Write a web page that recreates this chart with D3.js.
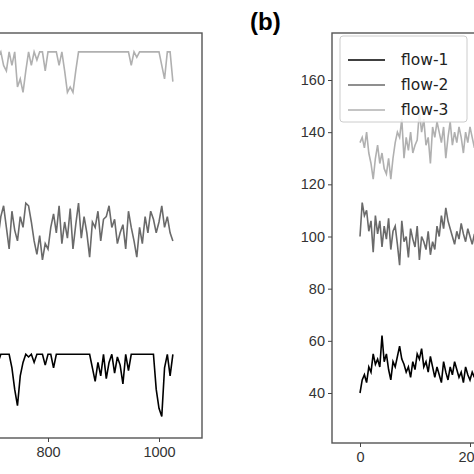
<!DOCTYPE html><html><head><meta charset="utf-8"><script src="https://cdn.jsdelivr.net/npm/d3@7"></script>
<style>body{margin:0;background:#fff}svg{font-family:"DejaVu Sans",sans-serif}</style></head><body>
<script>
// Left panel (a), visible portion
const leftX = [700,705,710,715,720,725,730,735,740,745,750,755,760,765,770,775,780,785,790,795,800,805,810,815,820,825,830,835,840,845,850,855,860,865,870,875,880,885,890,895,900,905,910,915,920,925,930,935,940,945,950,955,960,965,970,975,980,985,990,995,1000,1005,1010,1015,1020,1025];
const leftFlow1 = [53,53,50,53,53,53,53,48,40,34,45,50,53,52,53,50,53,53,53,49,53,53,48,53,53,53,53,53,53,53,53,53,53,53,53,53,48,43,50,45,53,44,50,53,46,52,49,42,53,47,53,53,53,53,53,53,53,53,53,40,33,30,48,53,45,53];
const leftFlow2 = [100,103,96,104,108,100,92,106,99,95,104,100,109,108,102,95,90,97,88,94,92,100,105,98,108,94,102,96,107,92,101,109,96,104,98,89,102,100,106,95,103,104,108,100,103,94,98,101,92,106,100,95,89,100,94,104,98,106,103,98,102,108,100,104,98,95];
const leftFlow3 = [165,165,163,165,160,158,165,160,165,152,155,150,158,165,160,165,162,165,165,158,165,165,165,165,160,165,158,150,152,150,158,165,165,165,165,165,165,165,165,165,165,165,165,165,165,165,165,165,165,165,160,165,163,165,165,165,165,165,165,165,165,160,155,165,165,154];
// Right panel (b)
const rightX = [0,4,8,12,16,20,24,28,32,36,40,44,48,52,56,60,64,68,72,76,80,84,88,92,96,100,104,108,112,116,120,124,128,132,136,140,144,148,152,156,160,164,168,172,176,180,184,188,192,196,200,204,208];
const rightFlow1 = [40,45,47,44,50,48,55,51,53,50,62,52,55,49,45,52,50,54,58,53,51,48,50,46,52,49,55,53,57,50,52,48,54,50,46,50,47,44,52,48,45,50,47,52,49,46,48,44,50,47,45,48,46];
const rightFlow2 = [100,113,108,110,102,106,94,108,101,106,96,104,99,107,95,102,104,97,89,106,98,100,92,103,99,96,104,91,100,98,95,102,93,98,95,104,100,108,103,111,106,103,100,97,102,99,105,101,98,103,100,97,101];
const rightFlow3 = [136,138,134,140,132,128,122,130,135,128,132,126,124,130,122,130,136,140,138,145,130,138,133,140,132,135,137,148,140,145,135,138,128,142,138,144,140,136,142,130,138,144,135,140,136,142,138,132,140,136,142,138,134];
const rightYTicks = [40,60,80,100,120,140,160];
const rightXTicks = [0,200];
const leftXTicks = [800,1000];
const seriesNames = ["flow-1","flow-2","flow-3"];
const colors = ["#000000","#6a6a6a","#b0b0b0"];

const svg = d3.select("body").append("svg").attr("width",474).attr("height",474);

function panel(x0, x1, y0, y1, xs, ys, xData, series, xTicks, yTicks){
  const g = svg.append("g");
  const clipId = "c"+Math.abs(x0);
  svg.append("clipPath").attr("id",clipId).append("rect").attr("x",x0).attr("y",y0).attr("width",x1-x0).attr("height",y1-y0);
  const line = d3.line().x((d,i)=>xs(xData[i])).y(d=>ys(d));
  series.forEach((s,k)=>{
    g.append("path").attr("d",line(s)).attr("fill","none").attr("stroke",colors[k]).attr("stroke-width",1.6).attr("clip-path",`url(#${clipId})`);
  });
  g.append("rect").attr("x",x0).attr("y",y0).attr("width",x1-x0).attr("height",y1-y0).attr("fill","none").attr("stroke","#555").attr("stroke-width",1.4);
  const xa = svg.append("g").attr("transform",`translate(0,${y1})`).call(d3.axisBottom(xs).tickValues(xTicks).tickSize(4).tickPadding(5).tickFormat(d3.format("d")));
  xa.select(".domain").remove();
  if (yTicks){
    const ya = svg.append("g").attr("transform",`translate(${x0},0)`).call(d3.axisLeft(ys).tickValues(yTicks).tickSize(4));
    ya.select(".domain").remove();
  }
  svg.selectAll(".tick text").attr("font-size",14.5).attr("fill","#333");
  svg.selectAll(".tick line").attr("stroke","#444");
  return g;
}

const lxs = d3.scaleLinear().domain([800,1000]).range([48,159]);
const lys = d3.scaleLinear().domain([22,172]).range([438,33]);
panel(-430, 202, 33, 438, lxs, lys, leftX, [leftFlow1,leftFlow2,leftFlow3], leftXTicks, null);

const rxs = d3.scaleLinear().domain([0,200]).range([360,470]);
const rys = d3.scaleLinear().domain([40,160]).range([393,80]);
panel(332, 600, 33, 443, rxs, rys, rightX, [rightFlow1,rightFlow2,rightFlow3], rightXTicks, rightYTicks);

svg.append("text").attr("x",250).attr("y",30).attr("font-size",24).attr("font-weight","bold").attr("font-family","Liberation Sans, Arial").text("(b)");

// legend
const lg = svg.append("g");
lg.append("rect").attr("x",340).attr("y",36).attr("width",127).attr("height",86).attr("rx",3).attr("fill","#fff").attr("fill-opacity",0.85).attr("stroke","#ccc");
seriesNames.forEach((n,k)=>{
  const y = 60 + k*25;
  lg.append("line").attr("x1",348).attr("x2",385).attr("y1",y).attr("y2",y).attr("stroke",colors[k]).attr("stroke-width",1.6);
  lg.append("text").attr("x",401).attr("y",y+5).attr("font-size",15.5).attr("fill","#222").text(n);
});
</script></body></html>
